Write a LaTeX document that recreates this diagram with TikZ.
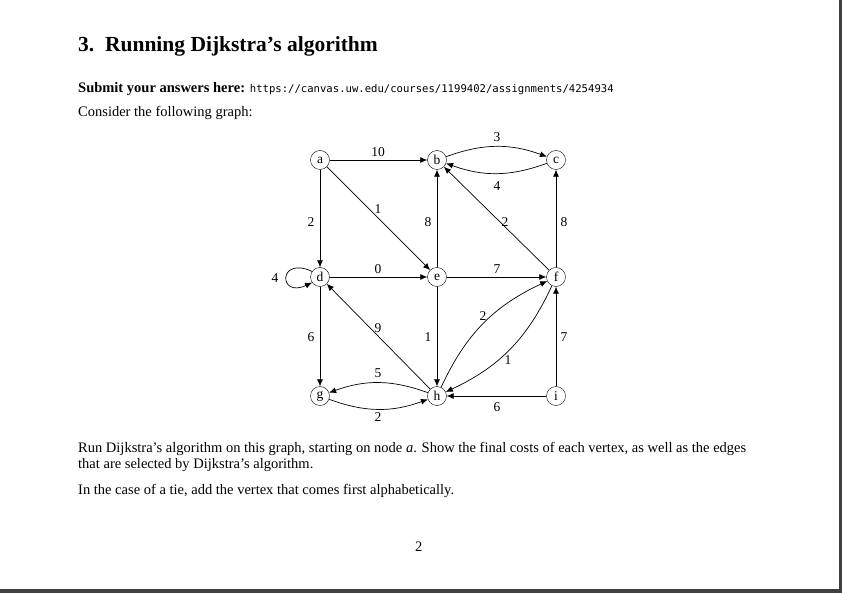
\documentclass[tikz,border=0pt]{standalone}
\usepackage{fontspec}
\setmainfont{Liberation Serif}
\setmonofont{DejaVu Sans Mono}
\usetikzlibrary{arrows.meta}
\begin{document}
\begin{tikzpicture}[x=1pt,y=-1pt,
  vtx/.style={circle,draw,inner sep=0pt,minimum size=19pt,font=\fontsize{13.5}{13}\selectfont},
  ed/.style={-{Latex[length=7pt,width=6pt]},line width=0.7pt},
  wl/.style={font=\fontsize{13.5}{13}\selectfont},
  txt/.style={anchor=base west,inner sep=0pt,font=\fontsize{14.5}{16}\selectfont}]
\fill[black!75] (0,0) rectangle (842,593);
\fill[white] (0,0) rectangle (839,589);
\node[txt,font=\bfseries\fontsize{21.5}{22}\selectfont] (t) at (78,52) {3.\ \ Running Dijkstra’s algorithm};
\node[txt] (s) at (78,93) {\textbf{Submit your answers here:} {\ttfamily\fontsize{10.6}{12}\selectfont https://canvas.uw.edu/courses/1199402/assignments/4254934}};
\node[txt] (c1) at (78,117) {Consider the following graph:};
\node[vtx] (a) at (320,160) {a};
\node[vtx] (b) at (437,160) {b};
\node[vtx] (c) at (556,160) {c};
\node[vtx] (d) at (320,277) {d};
\node[vtx] (e) at (437,277) {e};
\node[vtx] (f) at (556,277) {f};
\node[vtx] (g) at (320,396) {g};
\node[vtx] (h) at (437,396) {h};
\node[vtx] (i) at (556,396) {i};
\draw[ed] (a) -- (b);
\draw[ed] (a) -- (d);
\draw[ed] (a) -- (e);
\draw[ed] (b) to[bend left=20] (c);
\draw[ed] (c) to[bend left=20] (b);
\draw[ed] (e) -- (b);
\draw[ed] (f) -- (b);
\draw[ed] (f) -- (c);
\draw[ed] (d.145) .. controls +(-34,-16) and +(-34,16) .. (d.215);
\draw[ed] (d) -- (e);
\draw[ed] (e) -- (f);
\draw[ed] (d) -- (g);
\draw[ed] (h) -- (d);
\draw[ed] (e) -- (h);
\draw[ed] (h) to[bend left=20] (f);
\draw[ed] (f) to[bend left=20] (h);
\draw[ed] (i) -- (f);
\draw[ed] (h) to[bend right=20] (g);
\draw[ed] (g) to[bend right=20] (h);
\draw[ed] (i) -- (h);
\node[wl] (l1) at (378,152) {10};
\node[wl] (l2) at (497,137) {3};
\node[wl] (l3) at (497,186) {4};
\node[wl] (l4) at (311,222) {2};
\node[wl] (l5) at (378,209) {1};
\node[wl] (l6) at (428,222) {8};
\node[wl] (l7) at (505,222) {2};
\node[wl] (l8) at (564,222) {8};
\node[wl] (l9) at (275,278) {4};
\node[wl] (l10) at (378,269) {0};
\node[wl] (l11) at (497,269) {7};
\node[wl] (l12) at (311,337) {6};
\node[wl] (l13) at (378,328) {9};
\node[wl] (l14) at (428,337) {1};
\node[wl] (l15) at (483,316) {2};
\node[wl] (l16) at (508,360) {1};
\node[wl] (l17) at (564,337) {7};
\node[wl] (l18) at (378,373) {5};
\node[wl] (l19) at (378,417) {2};
\node[wl] (l20) at (497,407) {6};
\node[txt] (p1) at (78,452) {Run Dijkstra’s algorithm on this graph, starting on node \textit{a}. Show the final costs of each vertex, as well as the edges};
\node[txt] (p2) at (78,468) {that are selected by Dijkstra’s algorithm.};
\node[txt] (p3) at (78,494) {In the case of a tie, add the vertex that comes first alphabetically.};
\node[txt] (pg) at (415,551) {2};
\end{tikzpicture}
\end{document}
